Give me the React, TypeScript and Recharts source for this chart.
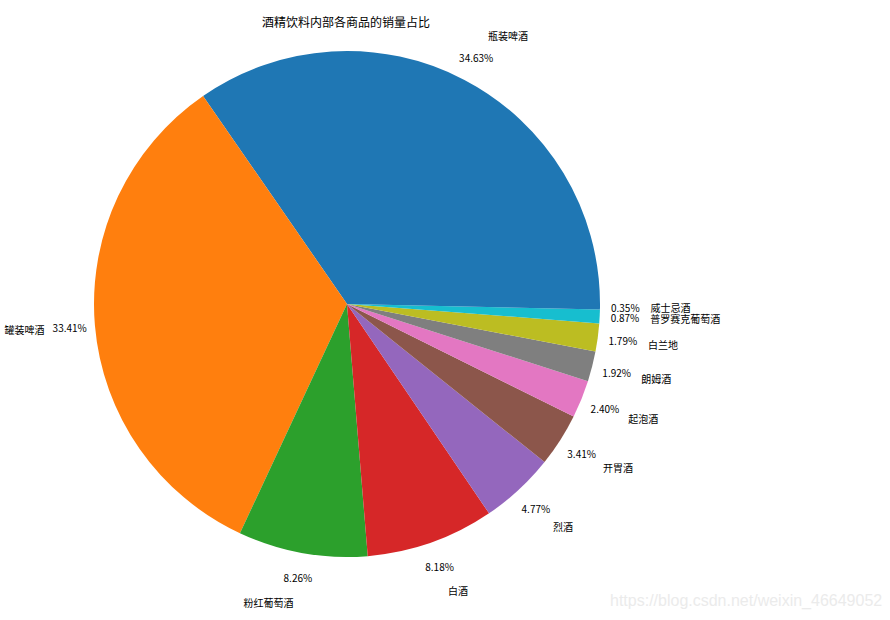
import { Cell, Pie, PieChart } from "recharts";

// 酒精饮料各商品销量占比 (%)
const names = [
  "瓶装啤酒",
  "罐装啤酒",
  "粉红葡萄酒",
  "白酒",
  "烈酒",
  "开胃酒",
  "起泡酒",
  "朗姆酒",
  "白兰地",
  "普罗赛克葡萄酒",
  "威士忌酒",
];
const shares = [34.63, 33.41, 8.26, 8.18, 4.77, 3.41, 2.4, 1.92, 1.79, 0.87, 0.35];

// matplotlib tab10, cycles back to blue for the 11th slice
const colors = [
  "#1f77b4", "#ff7f0e", "#2ca02c", "#d62728", "#9467bd",
  "#8c564b", "#e377c2", "#7f7f7f", "#bcbd22", "#17becf",
];

const data = names.map((name, i) => ({ name, value: shares[i] }));

const RAD = Math.PI / 180;
const FONT = "'Noto Sans CJK SC', 'Noto Sans', sans-serif";

const renderLabel = (props: any) => {
  const { cx, cy, midAngle, outerRadius, name, value } = props;
  const cos = Math.cos(-midAngle * RAD);
  const sin = Math.sin(-midAngle * RAD);
  const px = cx + outerRadius * 1.1 * cos;
  const py = cy + outerRadius * 1.1 * sin;
  const lx = cx + outerRadius * 1.2 * cos;
  const ly = cy + outerRadius * 1.2 * sin;
  return (
    <g>
      <text x={px} y={py} textAnchor="middle" dominantBaseline="central" fontSize={10} fill="#000" fontFamily={FONT}>
        {value.toFixed(2)}%
      </text>
      <text x={lx} y={ly} textAnchor={cos >= 0 ? "start" : "end"} dominantBaseline="central" fontSize={10} fill="#000" fontFamily={FONT}>
        {name}
      </text>
    </g>
  );
};

export default function App() {
  return (
    <div style={{ position: "absolute", left: 0, top: 0, width: 890, height: 620, background: "#fff" }}>
      <div
        style={{
          position: "absolute",
          left: 0,
          width: 692,
          top: 14,
          textAlign: "center",
          fontFamily: FONT,
          fontSize: 12,
          lineHeight: "16px",
          color: "#000",
        }}
      >
        酒精饮料内部各商品的销量占比
      </div>
      <PieChart width={890} height={620} margin={{ top: 0, right: 0, bottom: 0, left: 0 }}>
        <Pie
          data={data}
          dataKey="value"
          nameKey="name"
          cx={347}
          cy={304}
          outerRadius={253}
          startAngle={0}
          endAngle={360}
          stroke="none"
          label={renderLabel}
          labelLine={false}
          isAnimationActive={false}
        >
          {data.map((d, i) => (
            <Cell key={d.name} fill={colors[i % colors.length]} />
          ))}
        </Pie>
      </PieChart>
      <div
        style={{
          position: "absolute",
          left: 610,
          top: 591,
          fontFamily: "'Liberation Sans', Arial, sans-serif",
          fontSize: 16,
          lineHeight: "20px",
          color: "#ebebeb",
        }}
      >
        https://blog.csdn.net/weixin_46649052
      </div>
    </div>
  );
}
